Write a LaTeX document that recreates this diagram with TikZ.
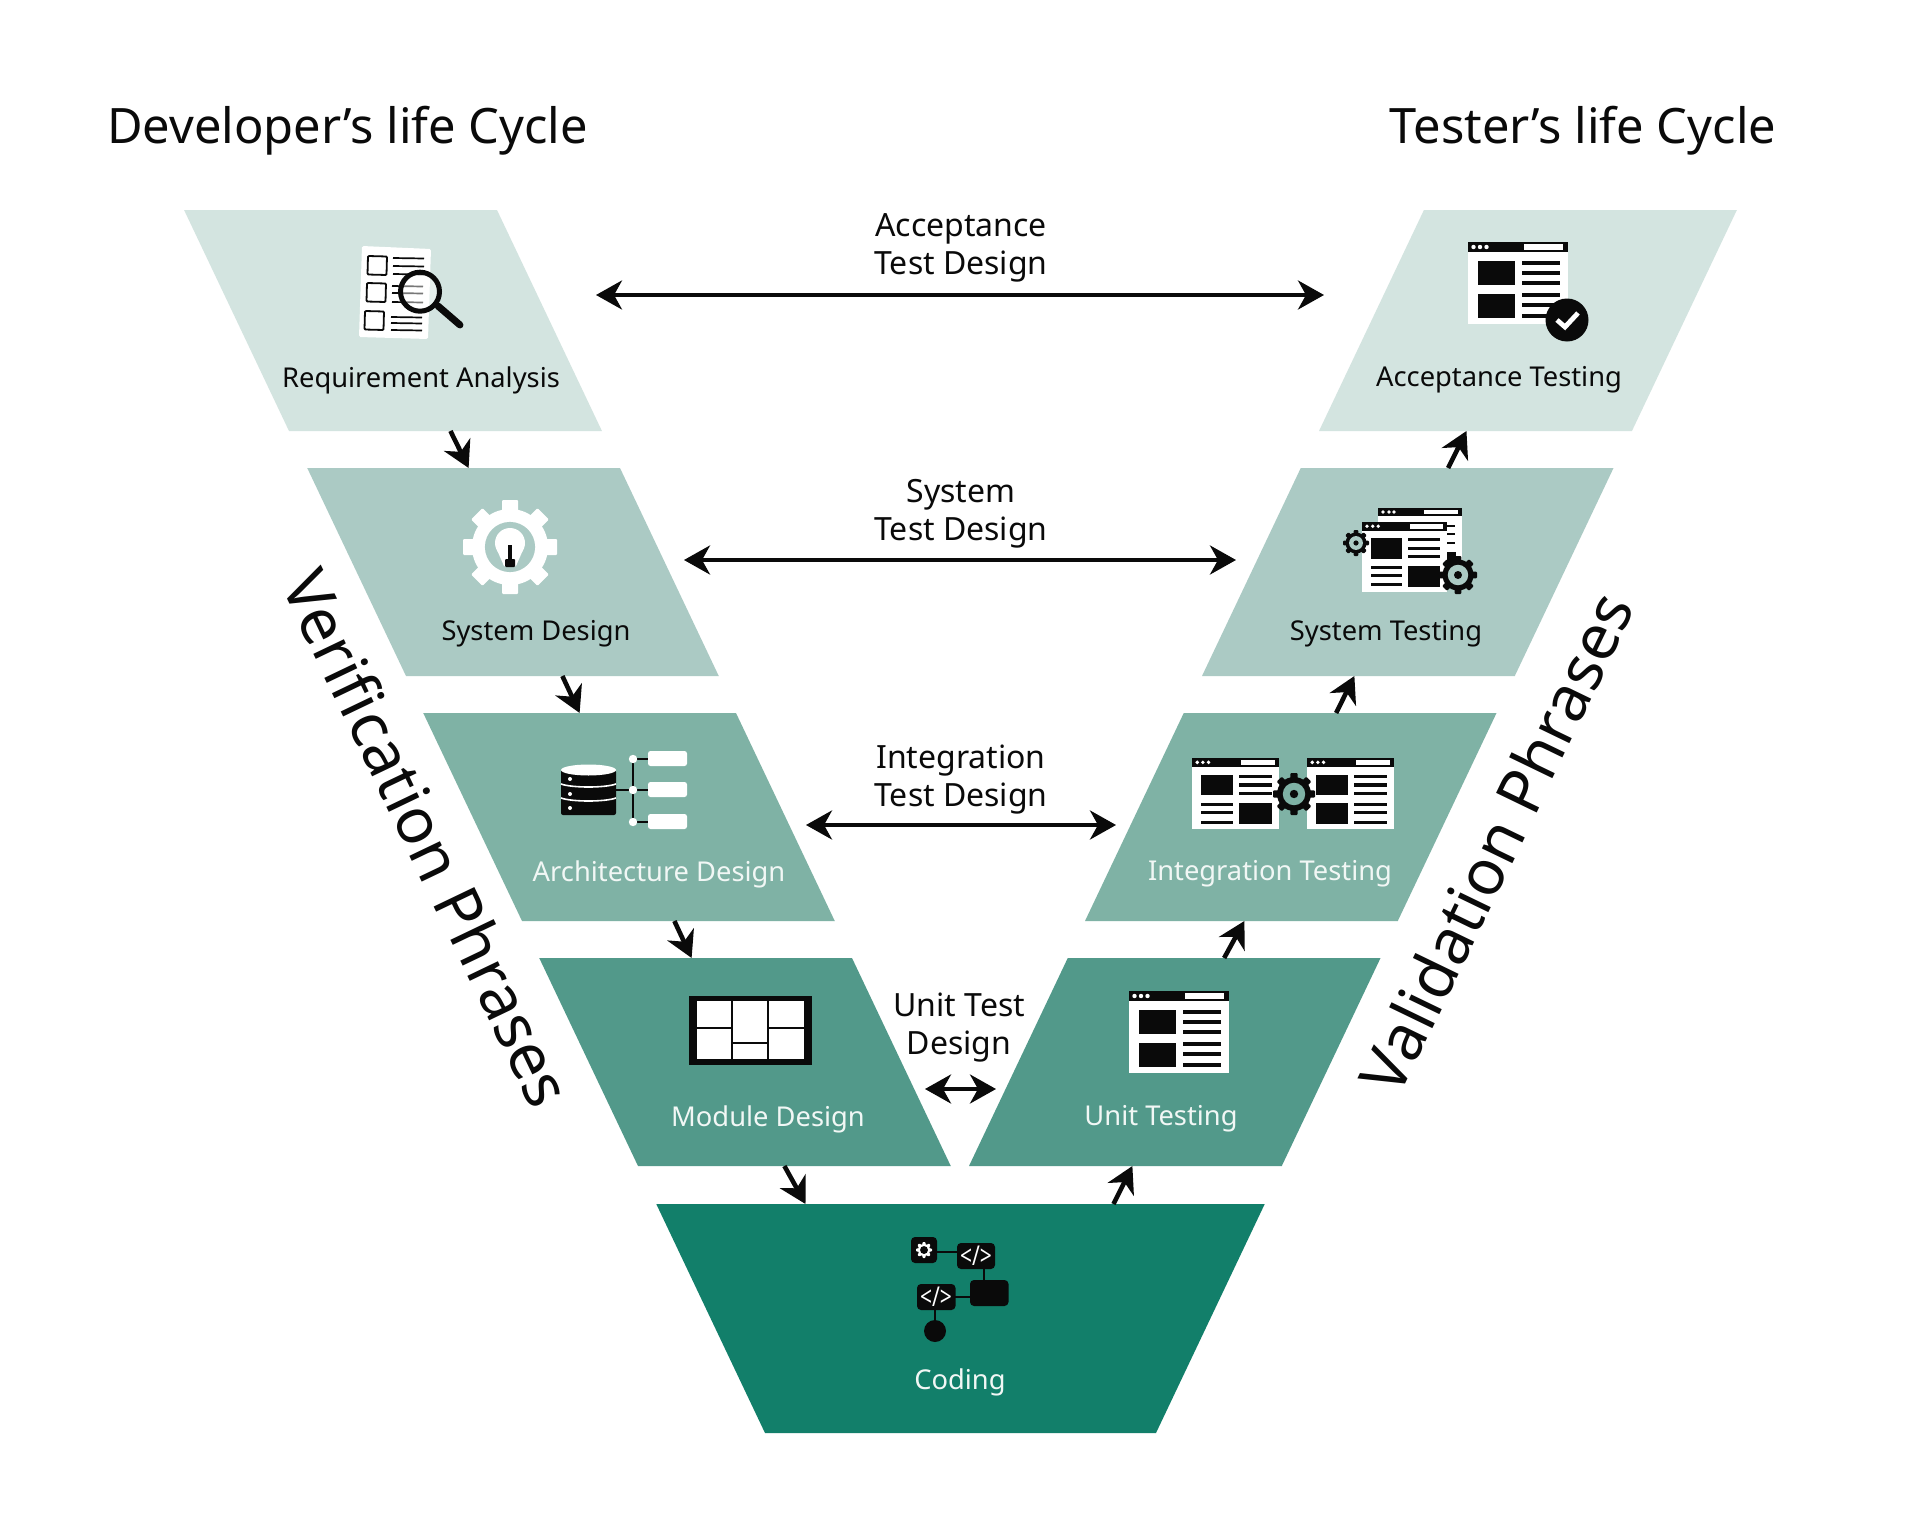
\documentclass[tikz,border=0pt]{standalone}
\usepackage{fontspec}
\setmainfont{Noto Sans}
\usetikzlibrary{shapes.geometric,arrows.meta,calc}
\definecolor{c1}{HTML}{D3E4E0}
\definecolor{c2}{HTML}{ABCAC4}
\definecolor{c3}{HTML}{7FB2A5}
\definecolor{c4}{HTML}{52998A}
\definecolor{c5}{HTML}{127F6A}
\definecolor{lab}{HTML}{F1F7F5}
\definecolor{ink}{HTML}{0A0A0A}
\newcommand\gearicon[7]{% x y Rout Rbody toothw body hole
  \begin{scope}[shift={(#1,#2)}]
    \fill[#6] (0,0) circle[radius=#4pt];
    \foreach \a in {0,45,...,315}{\fill[#6,rotate=\a,rounded corners=1pt] (-#5,0) rectangle (#5,#3);}
    \fill[#7] (0,0) circle[radius=#4pt*0.66];
  \end{scope}}
\newcommand\titlebar{%
  \fill[white] (0,0) rectangle (100,82);
  \fill[ink] (0,0) rectangle (100,10);
  \foreach \d in {6,12.5,19}{\fill[white] (\d,5) circle[radius=2.2pt];}
  \fill[white] (56,2.3) rectangle (95,7.7);}
\newcommand\winA[3]{% left squares, right lines
  \begin{scope}[shift={(#1,#2)},scale=#3]
    \titlebar
    \fill[ink] (10,19) rectangle (47.5,43);
    \fill[ink] (10,52) rectangle (47.5,76);
    \foreach \l in {21,31,41,53,63,74}{\fill[ink] (54,\l-1.8) rectangle (92,\l+1.8);}
  \end{scope}}
\newcommand\winB[3]{% diagonal layout
  \begin{scope}[shift={(#1,#2)},scale=#3]
    \titlebar
    \fill[ink] (10,19) rectangle (47.5,43);
    \fill[ink] (54,52) rectangle (92,76);
    \foreach \l in {21,31,41}{\fill[ink] (54,\l-1.8) rectangle (92,\l+1.8);}
    \foreach \l in {53,63,74}{\fill[ink] (10,\l-1.8) rectangle (47.5,\l+1.8);}
  \end{scope}}
% box body: an invisible rule gives the shape its natural size, so the angles are kept
\newcommand\boxbody[2]{\phantom{\rule{#1pt}{#2pt}}}
\newcommand\edges[1]{%
  \coordinate (#1-s) at ($(#1.bottom left corner)!.5!(#1.bottom right corner)$);
  \coordinate (#1-n) at ($(#1.top left corner)!.5!(#1.top right corner)$);}
\tikzset{
  box/.style={trapezium,inner sep=0pt,outer sep=0pt,draw=none,anchor=bottom left corner},
  leftbox/.style={box,trapezium left angle=115.4,trapezium right angle=64.6},
  rightbox/.style={box,trapezium left angle=64.6,trapezium right angle=115.4},
  lab/.style={font=\fontsize{27.3}{33}\selectfont,text=#1,inner sep=0pt,anchor=center},
  lab/.default=ink,
  mid/.style={font=\fontsize{32}{38}\selectfont,text=ink,align=center,inner sep=0pt,anchor=center},
  head/.style={font=\fontsize{48.8}{58}\selectfont,text=ink,inner sep=0pt,anchor=center},
  side/.style={font=\fontsize{63.2}{76}\selectfont,text=ink,inner sep=0pt,anchor=center},
  conn/.style={draw=ink,line width=4.6pt,-{Stealth[length=26pt,width=29pt,inset=8pt]}},
  both/.style={draw=ink,line width=3.8pt,{Stealth[length=26pt,width=29pt,inset=8pt]}-{Stealth[length=26pt,width=29pt,inset=8pt]}},
  tag/.style={text=white,font=\fontsize{21}{21}\selectfont,inner sep=0pt}
}
\begin{document}
\begin{tikzpicture}[x=1pt,y=-1pt]
\useasboundingbox (0,0) rectangle (1920,1536);
\fill[white] (0,0) rectangle (1920,1536);
% boxes
\node[leftbox,fill=c1] (req) at (289,431) {\boxbody{208}{221}};
\node[leftbox,fill=c2] (sysd) at (406,676) {\boxbody{214}{208}};
\node[leftbox,fill=c3] (arch) at (522,921) {\boxbody{214}{208}};
\node[leftbox,fill=c4] (mod) at (638,1166) {\boxbody{214}{208}};
\node[rightbox,fill=c1] (acc) at (1319,431) {\boxbody{208}{221}};
\node[rightbox,fill=c2] (syst) at (1202,676) {\boxbody{214}{208}};
\node[rightbox,fill=c3] (integ) at (1085,921) {\boxbody{214}{208}};
\node[rightbox,fill=c4] (unit) at (969,1166) {\boxbody{214}{208}};
\node[box,fill=c5,trapezium left angle=115.4,trapezium right angle=115.4] (code) at (765,1433) {\boxbody{391}{229}};
\edges{req}\edges{sysd}\edges{arch}\edges{mod}\edges{acc}\edges{syst}\edges{integ}\edges{unit}\edges{code}
% titles
\node[head] (t1) at (347.5,131) {Developer’s life Cycle};
\node[head] (t2) at (1583,131) {Tester’s life Cycle};
\node[side,rotate=-64.4] (vp) at (428,838) {Verification Phrases};
\node[side,rotate=64.2] (valp) at (1496,843) {Validation Phrases};
% labels
\node[lab] (lreq) at (421,380) {Requirement Analysis};
\node[lab] (lacc) at (1499,380) {Acceptance Testing};
\node[lab] (lsysd) at (536,634) {System Design};
\node[lab] (lsyst) at (1386,634) {System Testing};
\node[lab=lab] (larch) at (659,874) {Architecture Design};
\node[lab=lab] (linteg) at (1270,874) {Integration Testing};
\node[lab=lab] (lmod) at (768,1119) {Module Design};
\node[lab=lab] (lunit) at (1161,1119) {Unit Testing};
\node[lab=lab] (lcode) at (960,1382) {Coding};
\node[mid] (m1) at (961,248) {Acceptance\\Test Design};
\node[mid] (m2) at (961,514) {System\\Test Design};
\node[mid] (m3) at (961,780) {Integration\\Test Design};
\node[mid] (m4) at (959,1028) {Unit Test\\Design};
% horizontal connector ends
\coordinate (a1) at (596,295);
\coordinate (a2) at (1324,295);
\coordinate (b1) at (684,560);
\coordinate (b2) at (1236,560);
\coordinate (c1p) at (806,825);
\coordinate (c2p) at (1116,825);
\coordinate (d1) at (925,1089);
\coordinate (d2) at (996,1089);
\draw[both] (a1) -- (a2);
\draw[both] (b1) -- (b2);
\draw[both] (c1p) -- (c2p);
\draw[both] (d1) -- (d2);
% flow connectors
\draw[conn] ([xshift=5pt]req-s) -- ([xshift=5pt]sysd-n);
\draw[conn] (sysd-s) -- (arch-n);
\draw[conn] ([xshift=-4pt]arch-s) -- ([xshift=-4pt]mod-n);
\draw[conn] ([xshift=-10pt]mod-s) -- ([xshift=-155pt]code-n);
\draw[conn] ([xshift=153pt]code-n) -- ([xshift=7pt]unit-s);
\draw[conn] (unit-n) -- ([xshift=3pt]integ-s);
\draw[conn] ([xshift=-4pt]integ-n) -- ([xshift=-4pt]syst-s);
\draw[conn] ([xshift=-9pt]syst-n) -- ([xshift=-9pt]acc-s);
% icon: requirement analysis
\fill[white,rounded corners=1.5pt] (362,246) -- (431,249) -- (428,339) -- (359,337) -- cycle;
\foreach \yy/\xx in {256/368,283/367,311/365}{\draw[ink,line width=1.8pt,rounded corners=1pt] (\xx,\yy) -- (\xx+19,\yy+.5) -- (\xx+18.5,\yy+19) -- (\xx-.5,\yy+18.5) -- cycle;}
\foreach \yy/\xx in {258/393,266/393,274/393,286/392,293/392,302/392,317/391,323/391,330/391}{\draw[ink,line width=1.7pt] (\xx,\yy) -- (\xx+31,\yy+.5);}
\fill[white,opacity=.45] (420,291.7) circle[radius=19.5pt];
\draw[ink,line width=5pt] (420,291.7) circle[radius=19.5pt];
\draw[ink,line width=7pt,line cap=round] (438,306) -- (460,325);
% icon: system design
\gearicon{510}{547}{47}{38}{8}{white}{c2}
\fill[white] (510,543) circle[radius=15pt];
\fill[white] (497,550) -- (523,550) -- (516,566) -- (504,566) -- cycle;
\fill[ink] (508,545) rectangle (512,560);
\fill[ink,rounded corners=1pt] (505,559) rectangle (515,567);
% icon: architecture
\fill[ink,rounded corners=2pt] (561,770) rectangle (616,815);
\fill[white] (588.5,770) ellipse[x radius=27.5pt,y radius=5.5pt];
\foreach \yy in {786,800}{\draw[white,line width=1.6pt] (561,\yy-2) .. controls (572,\yy+2) and (605,\yy+2) .. (616,\yy-2);}
\foreach \yy in {779,794,808}{\fill[white] (570,\yy) circle[radius=2pt];}
\draw[ink,line width=1.5pt] (616,790) -- (648,790) (633,759) -- (633,822) (633,759) -- (648,759) (633,822) -- (648,822);
\foreach \yy/\zz in {759/751,790/782,822/814}{
  \fill[white] (633,\yy) circle[radius=4.2pt];
  \fill[white,rounded corners=2.5pt] (648,\zz) rectangle (687,\zz+15);}
% icon: module
\fill[ink] (689,996) rectangle (812,1065);
\fill[white] (697,1001) rectangle (804,1059);
\draw[ink,line width=2pt] (732,1001) -- (732,1059) (768,1001) -- (768,1059) (697,1028) -- (732,1028) (768,1028) -- (804,1028) (732,1043) -- (768,1043);
% icon: acceptance
\winA{1467.5}{242}{1}
\fill[ink] (1567,320) circle[radius=21.5pt];
\draw[white,line width=4.8pt] (1557,320) -- (1565,327) -- (1578,313);
% icon: system testing
\fill[white] (1378,508) rectangle (1462,579);
\fill[ink] (1378,508) rectangle (1462,516);
\foreach \d in {1383,1389,1394}{\fill[white] (\d,512) circle[radius=1.9pt];}
\fill[white] (1424,510) rectangle (1458,514);
\foreach \l in {526,534,543}{\fill[ink] (1447,\l-1.4) rectangle (1455,\l+1.4);}
\fill[ink] (1447,552) rectangle (1456,567);
\winB{1362}{522}{.85}
\gearicon{1356}{543}{13}{10.5}{2.4}{ink}{c2}
\fill[ink] (1356,543) circle[radius=2.6pt];
\gearicon{1458}{575}{19}{15.5}{3.4}{ink}{c2}
\fill[ink] (1458,575) circle[radius=4pt];
% icon: integration
\winB{1192}{758}{.87}
\winA{1307}{758}{.87}
\gearicon{1294}{794}{21}{17}{3.6}{ink}{c3}
\fill[ink] (1294,794) circle[radius=4.2pt];
% icon: unit
\winA{1128.5}{991}{1}
% icon: coding
\draw[ink,line width=1.5pt] (937,1252) -- (957,1252) (984,1269) -- (984,1280) (955,1297) -- (970,1297) (935,1310) -- (935,1322);
\fill[ink,rounded corners=4pt] (911,1237) rectangle (937,1263);
\fill[ink,rounded corners=4pt] (957,1243) rectangle (995,1269);
\fill[ink,rounded corners=4pt] (970,1280) rectangle (1008.5,1306);
\fill[ink,rounded corners=4pt] (917,1284) rectangle (955.5,1310);
\fill[ink] (935,1331) circle[radius=11pt];
\gearicon{924}{1250}{8}{6}{1.6}{white}{ink}
\node[tag] (code1) at (976,1256) {\scalebox{1}[1.3]{</>}};
\node[tag] (code2) at (936,1297) {\scalebox{1}[1.3]{</>}};
\end{tikzpicture}
\end{document}
